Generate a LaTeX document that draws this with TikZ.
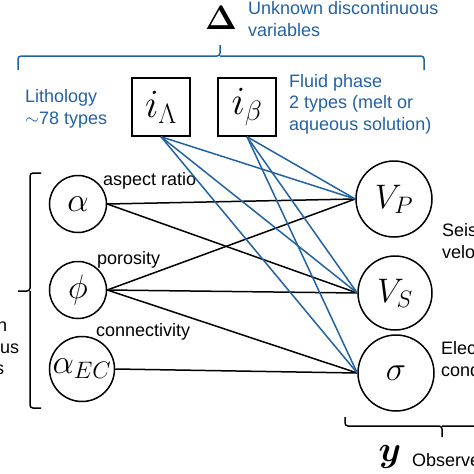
\RequirePackage{fix-cm}
\documentclass[tikz,border=0pt]{standalone}
\usepackage{amsmath,bm}
\usepackage{fontspec}
\setmainfont{Liberation Sans}
\usetikzlibrary{positioning}
\definecolor{discblue}{RGB}{33,98,165}

\tikzset{
  var/.style={circle,draw,line width=1.5pt,minimum size=76pt,inner sep=0pt,font=\fontsize{34}{34}\selectfont},
  contvar/.style={var,minimum size=57pt},
  discvar/.style={rectangle,draw,line width=1.5pt,minimum size=58pt,inner sep=0pt,font=\fontsize{40}{40}\selectfont},
  lbl/.style={font=\fontsize{18}{21.5}\selectfont,inner sep=0pt},
  bluelbl/.style={lbl,text=discblue,align=left,anchor=west},
  link/.style={line width=1.5pt},
  bluelink/.style={line width=1.5pt,discblue},
  bracket/.style={line width=1.5pt,rounded corners=3pt}
}

\begin{document}
\begin{tikzpicture}[x=1pt,y=-1pt]
  \useasboundingbox (0,0) rectangle (474,474);
  \clip (0,0) rectangle (474,474);

  % discontinuous variables
  \node[inner sep=0pt] (delta) at (221,18) {\fontsize{34}{34}\selectfont$\boldsymbol{\Delta}$};
  \node[bluelbl] (disclbl) at (248,19) {Unknown discontinuous\\variables};
  \draw[bracket,discblue] (18,70) |- (220,56) -- (220,45);
  \draw[bracket,discblue] (220,56) -| (424,70);

  \node[discvar] (ilam) at (161,107) {$i_\Lambda$};
  \node[discvar] (ibeta) at (247,107) {$i_\beta$};
  \node[bluelbl] (litho) at (25,109) {Lithology\\$\sim$78 types};
  \node[bluelbl] (fluid) at (289,104) {Fluid phase\\2 types (melt or\\aqueous solution)};

  % continuous variables
  \node[contvar] (alpha) at (78,204) {$\alpha$};
  \node[contvar] (phi) at (78,290) {$\phi$};
  \node[contvar,minimum size=65pt] (aec) at (82,369) {$\alpha_{EC}$};
  \node[lbl,anchor=west] (aspect) at (103,181) {aspect ratio};
  \node[lbl,anchor=west] (poro) at (97,260) {porosity};
  \node[lbl,anchor=west] (conn) at (96,332) {connectivity};
  \draw[bracket] (41,173) -| (30,291) -- (18,291);
  \draw[bracket] (30,291) |- (41,408);
  \node[lbl,align=left,anchor=west] (contlbl) at (-68,347) {Unknown\\continuous\\variables};

  % observed variables
  \node[var] (vp) at (394,199) {$V_P$};
  \node[var,minimum size=74pt] (vs) at (395,293) {$V_S$};
  \node[var] (sig) at (396,373) {$\sigma$};
  \node[lbl,align=left,anchor=west] (seis) at (442,243) {Seismic\\velocity};
  \node[lbl,align=left,anchor=west] (elec) at (441,361) {Electrical\\conductivity};
  \draw[bracket] (345,417) |- (442,426) -- (442,437);
  \draw[bracket] (442,426) -| (539,417);
  \node (obs) at (390,457) {\fontsize{36}{36}\selectfont$\boldsymbol{y}$};
  \node[lbl,anchor=west] (obslbl) at (412,460) {Observed variables};

  % links
  \draw[link] (alpha.east) -- (vp.west);
  \draw[link] (alpha.east) -- (vs.west);
  \draw[link] (phi.east) -- (vp.west);
  \draw[link] (phi.east) -- (vs.west);
  \draw[link] (phi.east) -- (sig.west);
  \draw[link] (aec.east) -- (sig.west);
  \foreach \s in {ilam,ibeta}
    \foreach \t in {vp,vs,sig}
      \draw[bluelink] (\s.south) -- (\t.west);
\end{tikzpicture}
\end{document}
